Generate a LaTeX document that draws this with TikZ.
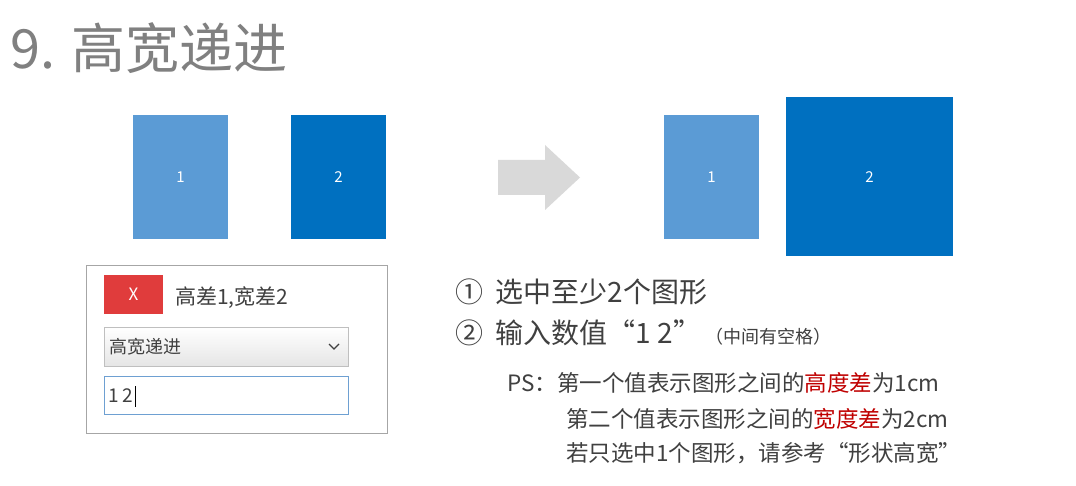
\documentclass[tikz,border=0pt]{standalone}
\usepackage{fontspec}
\setmainfont{Noto Sans CJK SC}
\definecolor{lb}{HTML}{5B9BD5}
\definecolor{db}{HTML}{0070C0}
\definecolor{tx}{HTML}{404040}
\definecolor{rd}{HTML}{C00000}
\definecolor{btn}{HTML}{E03C3C}
\definecolor{inb}{HTML}{6EA0D2}
\begin{document}
\begin{tikzpicture}[x=1pt,y=-1pt,
  shp/.style={draw=none,text=white,font=\fontsize{15}{15}\selectfont},
  line/.style={anchor=west,text=tx,inner sep=0}]
\useasboundingbox[fill=white] (0,0) rectangle (1076,486);
\node[anchor=west,text=gray,inner sep=0,font=\fontsize{54}{54}\selectfont] (title) at (10,48) {9. 高宽递进};
% left shapes
\fill[lb] (133,115) rectangle (228,239); \node[shp] (a1) at (180.5,177) {1};
\fill[db] (291,115) rectangle (386,239); \node[shp] (a2) at (338.5,177) {2};
% arrow
\fill[gray!30] (498,160) -- (545,160) -- (545,145) -- (580,177.5) -- (545,210) -- (545,195) -- (498,195) -- cycle;
% right shapes
\fill[lb] (664,115) rectangle (759,239); \node[shp] (b1) at (711.5,177) {1};
\fill[db] (786,97) rectangle (953,256); \node[shp] (b2) at (869.5,177) {2};
% dialog
\draw[gray!70,fill=white] (86,265) rectangle (387,433);
\fill[btn] (104,275) rectangle (163,314);
\node[text=white,font=\fontsize{17}{17}\selectfont] (x) at (133.5,294.5) {X};
\node[line,font=\fontsize{21}{21}\selectfont] (msg) at (175,298) {高差1,宽差2};
\shade[top color=white,bottom color=gray!20] (104,327) rectangle (348,366);
\draw[gray!50] (104,327) rectangle (348,366);
\node[line,font=\fontsize{18}{18}\selectfont] (dd) at (109,347) {高宽递进};
\draw[tx,line width=1.3pt] (329,344) -- (334,349) -- (339,344);
\draw[fill=white,draw=inb,line width=1pt] (104,376) rectangle (348,414);
\node[line,font=\fontsize{19}{19}\selectfont] (inp) at (108,396) {1 2};
\draw[black] (inp.east) ++(1,-10) -- ++(0,21);
% text
\node[line,font=\fontsize{28}{28}\selectfont] (l1) at (455,292) {① \ 选中至少2个图形};
\node[line,font=\fontsize{28}{28}\selectfont] (l2) at (455,333) {② \ 输入数值“1 2”\,{\fontsize{18}{18}\selectfont （中间有空格）}};
\node[line,font=\fontsize{22.5}{22.5}\selectfont] (p1) at (507,383) {PS：第一个值表示图形之间的\textcolor{rd}{高度差}为1cm};
\node[line,font=\fontsize{22.5}{22.5}\selectfont] (p2) at (566,419) {第二个值表示图形之间的\textcolor{rd}{宽度差}为2cm};
\node[line,font=\fontsize{22.5}{22.5}\selectfont] (p3) at (566,453) {若只选中1个图形，请参考“形状高宽”};
\end{tikzpicture}
\end{document}
